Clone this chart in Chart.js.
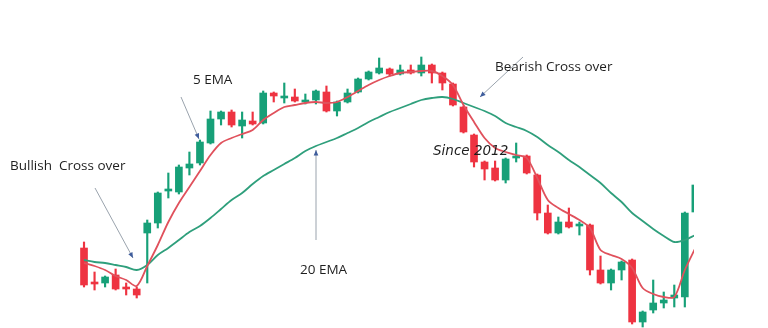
<!DOCTYPE html>
<html>
<head>
<meta charset="utf-8">
<script src="https://cdn.jsdelivr.net/npm/chart.js@4/dist/chart.umd.min.js"></script>
<style>
  html, body { margin: 0; padding: 0; background: #fff; }
  #wrap { width: 768px; height: 328px; position: relative; }
</style>
</head>
<body>
<div id="wrap"><canvas id="chart"></canvas></div>
<script>
// candle prices (open, high, low, close)
const opens  = [80, 46, 45, 53, 41, 39, 95, 105, 137, 136, 160, 165, 185, 209, 216, 202, 207, 205, 235, 230,
                231, 226, 228, 236, 217, 226, 236, 249, 255, 259, 254, 258, 255, 263, 255, 244, 221, 193, 166, 160,
                148, 170, 172, 153, 115, 95, 106, 102, 103, 58, 45, 58, 68, 6, 18, 25, 30, 31, 116];
const closes = [43, 44, 51, 39, 39, 33, 105, 135, 139, 161, 164, 186, 209, 216, 203, 208, 204, 235, 232, 232,
                227, 228, 237, 217, 226, 235, 249, 256, 260, 254, 258, 255, 263, 255, 245, 223, 196, 166, 159, 148,
                169, 172, 155, 115, 95, 106, 101, 104, 58, 45, 58, 66, 6, 16, 25, 28, 33, 115, 143];
const highs  = [86, 56, 52, 59, 45, 41, 108, 136, 155, 163, 176, 188, 217, 217, 218, 216, 216, 237, 236, 245,
                239, 234, 238, 242, 227, 239, 250, 257, 270, 260, 263, 263, 271, 264, 256, 245, 222, 194, 167, 167,
                170, 185, 173, 154, 123, 111, 120, 106, 104, 72, 59, 67, 69, 17, 48, 36, 43, 116, 145];
const lows   = [41, 38, 41, 38, 33, 30, 45, 100, 130, 134, 153, 163, 184, 203, 201, 190, 203, 204, 226, 225,
                226, 224, 224, 216, 212, 225, 235, 248, 254, 252, 253, 254, 252, 245, 238, 222, 195, 161, 148, 147,
                145, 166, 154, 108, 94, 94, 100, 93, 53, 44, 38, 48, 4, 1, 15, 20, 21, 21, 116];

const ema5  = [65, 62, 58, 52, 48, 42, 62, 83, 106, 125, 141, 157, 173, 185, 190, 194, 198, 208, 215, 221,
               223, 225, 226, 225, 226, 231, 237, 243, 248, 252, 255, 256, 257, 257, 252, 243, 223, 206, 190, 180,
               176, 173, 170, 150, 128, 120, 114, 108, 100, 78, 73, 69, 60, 40, 34, 31, 31, 58, 80];
const ema20 = [68, 66, 65, 63, 61, 58, 63, 73, 80, 88, 96, 102, 110, 119, 128, 135, 144, 152, 158, 164,
               170, 177, 182, 186, 190, 195, 200, 206, 211, 216, 220, 224, 228, 230, 231, 229, 225, 221, 217, 212,
               205, 201, 197, 191, 183, 176, 168, 161, 153, 145, 135, 126, 115, 107, 99, 92, 86, 88, 93];

const UP = '#17a078';
const DOWN = '#ee3341';

const candleColors = opens.map((o, i) => closes[i] >= o ? UP : DOWN);
const bodies = opens.map((o, i) => ({ x: i, y: [o, closes[i]] }));
const wicks = lows.map((l, i) => ({ x: i, y: [l, highs[i]] }));

// annotation texts and pointer arrows
const notes = [
  { text: '5 EMA', x: 193, y: 80, font: '13.5px "Open Sans"' },
  { text: 'Bullish  Cross over', x: 10, y: 166, font: '13.5px "Open Sans"' },
  { text: '20 EMA', x: 300, y: 270, font: '13.5px "Open Sans"' },
  { text: 'Bearish Cross over', x: 495, y: 67, font: '13.5px "Open Sans"' },
  { text: 'Since 2012', x: 433, y: 151, font: 'italic 13.5px "DejaVu Sans"' }
];
const arrows = [
  [181, 97, 199, 139],
  [95, 188, 133, 258],
  [316, 240, 316, 150],
  [523, 57, 480, 97]
];

const annotations = {
  id: 'annotations',
  afterDraw(chart) {
    const ctx = chart.ctx;
    ctx.save();
    arrows.forEach(([x1, y1, x2, y2]) => {
      ctx.strokeStyle = '#9aa3ad';
      ctx.lineWidth = 1;
      ctx.beginPath();
      ctx.moveTo(x1, y1);
      ctx.lineTo(x2, y2);
      ctx.stroke();
      const a = Math.atan2(y2 - y1, x2 - x1);
      ctx.fillStyle = '#3f5d9c';
      ctx.beginPath();
      ctx.moveTo(x2, y2);
      ctx.lineTo(x2 - 6 * Math.cos(a - 0.4), y2 - 6 * Math.sin(a - 0.4));
      ctx.lineTo(x2 - 6 * Math.cos(a + 0.4), y2 - 6 * Math.sin(a + 0.4));
      ctx.closePath();
      ctx.fill();
    });
    ctx.textAlign = 'left';
    ctx.textBaseline = 'middle';
    notes.forEach(n => {
      ctx.font = n.font;
      ctx.fillStyle = '#1e1e1e';
      ctx.fillText(n.text, n.x, n.y);
    });
    ctx.restore();
  }
};

new Chart(document.getElementById('chart'), {
  type: 'bar',
  data: {
    datasets: [{
      type: 'line',
      label: '5 EMA',
      data: ema5.map((v, i) => ({ x: i, y: v })),
      borderColor: '#e0515c',
      borderWidth: 1.8,
      pointRadius: 0,
      tension: 0.3,
      clip: 0,
      order: 0
    }, {
      type: 'line',
      label: '20 EMA',
      data: ema20.map((v, i) => ({ x: i, y: v })),
      borderColor: '#2f9f7c',
      borderWidth: 1.8,
      pointRadius: 0,
      tension: 0.3,
      clip: 0,
      order: 0
    }, {
      label: 'body',
      data: bodies,
      backgroundColor: candleColors,
      barThickness: 7,
      minBarLength: 2,
      grouped: false,
      clip: 0,
      order: 1
    }, {
      label: 'wick',
      data: wicks,
      backgroundColor: candleColors,
      barThickness: 1.5,
      grouped: false,
      clip: 0,
      order: 2
    }]
  },
  options: {
    responsive: true,
    maintainAspectRatio: false,
    animation: false,
    layout: { padding: { left: 0, right: 74, top: 0, bottom: 0 } },
    plugins: {
      legend: { display: false },
      tooltip: { enabled: false }
    },
    scales: {
      x: { type: 'linear', min: -7.97, max: 57.87, offset: false, display: false },
      y: { min: 0, max: 328, display: false }
    }
  },
  plugins: [annotations]
});
</script>
</body>
</html>
